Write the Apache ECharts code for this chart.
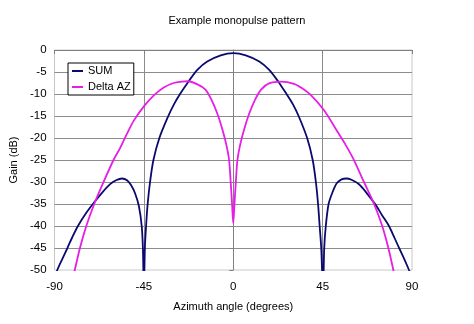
<!DOCTYPE html>
<html>
<head>
<meta charset="utf-8">
<script src="https://cdn.jsdelivr.net/npm/echarts@6/dist/echarts.min.js"></script>
<style>
    html, body { margin: 0; padding: 0; background: #fff; }
    #chart { width: 474px; height: 324px; }
</style>
</head>
<body>
<div id="chart"></div>
<script>
    // 数据: 角度(度) 与 增益(dB)
    var xTicks = [-90, -45, 0, 45, 90];
    var yTicks = [0, -5, -10, -15, -20, -25, -30, -35, -40, -45, -50];

    var sumAngle = [-90, -88.6, -86, -83.5, -81, -78.2, -74, -70, -66, -62, -59, -56, -53.5, -51.5, -49.5, -47.5, -46.1, -45.5, -45,
        -44.5, -43.9, -43.1, -41.9, -40.2, -37.2, -32.7, -29.8, -26.8, -22.6, -18.1, -13.1, -6.3, 0,
        6.3, 13.1, 18.1, 22.7, 26.8, 30, 32.9, 37.2, 40, 41.6, 42.7, 43.5, 44.3, 45.2,
        45.8, 46.6, 48, 50, 52.1, 54.5, 57, 59.5, 63.3, 67, 71.7, 75, 78.4, 81, 83.5, 86, 88.5, 90];
    var sumGain = [-52, -50, -47.4, -45, -42.5, -40, -37, -34.6, -32.4, -30.5, -29.6, -29.2, -29.6, -30.7, -32.5, -35.5, -40, -45, -55,
        -45, -40, -35, -30, -25, -20, -15, -12.3, -10, -7.2, -4.5, -2.6, -1.2, -0.7,
        -1.2, -2.6, -4.5, -7.2, -10, -12.3, -15, -20, -25, -30, -35, -40, -45, -55,
        -45, -40, -35, -32.3, -30.3, -29.4, -29.2, -29.5, -30.5, -32.4, -35.2, -37.6, -40, -42.5, -45, -47.4, -50, -51.5];

    var deltaAngle = [-81, -79.8, -77.2, -74, -70, -65.3, -60.3, -57, -53.5, -50, -45, -40, -35, -30, -26, -23, -18,
        -14, -11, -8, -5.5, -3.5, -2.1, -1.3, -0.6, 0,
        0.6, 1.3, 2.1, 3.5, 5.5, 8, 11, 14,
        18, 24, 30.6, 35, 39, 45.7, 52.4, 56.5, 60.4, 65.8, 70.9, 75, 78.1, 80.6, 81.5];
    var deltaGain = [-52, -50, -45, -40, -35, -30, -25, -22.3, -19, -16, -12.8, -10.3, -8.5, -7.5, -7.2, -7.1, -7.8,
        -9, -11.3, -14.5, -18, -21.5, -25, -30, -35, -39.4,
        -35, -30, -25, -21.5, -18, -14.5, -11.3, -9,
        -7.6, -7.2, -7.7, -8.8, -10.2, -13.7, -18.5, -21.5, -24.7, -30, -35, -40, -45, -50, -52];

    function pairs(xs, ys) {
        var out = [];
        for (var i = 0; i < xs.length; i++) {
            out.push([xs[i], ys[i]]);
        }
        return out;
    }

    var myChart = echarts.init(document.getElementById('chart'));

    var font = 'Liberation Sans, Arial, sans-serif';

    var option = {
        backgroundColor: '#fff',
        animation: false,
        textStyle: { fontFamily: font },
        title: {
            text: 'Example monopulse pattern',
            left: 'center',
            top: 10,
            textStyle: { fontSize: 11, fontWeight: 'normal', color: '#000', fontFamily: font }
        },
        legend: {
            orient: 'vertical',
            left: 68,
            top: 63,
            backgroundColor: '#fff',
            borderColor: '#000',
            borderWidth: 1,
            borderRadius: 0,
            padding: [2, 3, 2, 4],
            itemGap: 4,
            itemWidth: 11,
            itemHeight: 2,
            icon: 'rect',
            textStyle: { fontSize: 11, color: '#000', fontFamily: font, lineHeight: 12 },
            data: ['SUM', 'Delta AZ']
        },
        grid: {
            left: 54,
            right: 62,
            top: 50,
            bottom: 54,
            show: true,
            borderColor: '#c8c8c8',
            borderWidth: 1
        },
        xAxis: {
            type: 'value',
            min: xTicks[0],
            max: xTicks[xTicks.length - 1],
            interval: 45,
            name: 'Azimuth angle (degrees)',
            nameLocation: 'middle',
            nameGap: 31,
            nameTextStyle: { fontSize: 11, color: '#000', fontFamily: font },
            axisLine: { show: true, lineStyle: { color: '#808080', width: 1 } },
            axisTick: { show: true, length: 4, lineStyle: { color: '#808080' } },
            axisLabel: { fontSize: 11.5, color: '#000', margin: 11, fontFamily: font },
            splitLine: { show: true, showMinLine: false, showMaxLine: false, lineStyle: { color: '#8c8c8c', width: 1 } }
        },
        yAxis: {
            type: 'value',
            min: yTicks[yTicks.length - 1],
            max: yTicks[0],
            interval: 5,
            name: 'Gain (dB)',
            nameLocation: 'middle',
            nameGap: 31,
            nameRotate: 90,
            nameTextStyle: { fontSize: 11, color: '#000', fontFamily: font },
            axisLine: { show: true, lineStyle: { color: '#808080', width: 1 } },
            axisTick: { show: true, length: 4, lineStyle: { color: '#808080' } },
            axisLabel: { fontSize: 11.5, color: '#000', margin: 8, fontFamily: font },
            splitLine: { show: true, showMinLine: false, showMaxLine: false, lineStyle: { color: '#8c8c8c', width: 1 } }
        },
        series: [
            {
                name: 'SUM',
                type: 'line',
                showSymbol: false,
                clip: true,
                smooth: 0.3,
                color: '#0a0a6e',
                lineStyle: { width: 1.8, color: '#0a0a6e' },
                data: pairs(sumAngle, sumGain)
            },
            {
                name: 'Delta AZ',
                type: 'line',
                showSymbol: false,
                clip: true,
                smooth: 0.3,
                color: '#e61ee6',
                lineStyle: { width: 1.8, color: '#e61ee6' },
                data: pairs(deltaAngle, deltaGain)
            }
        ]
    };

    myChart.setOption(option);
</script>
</body>
</html>
